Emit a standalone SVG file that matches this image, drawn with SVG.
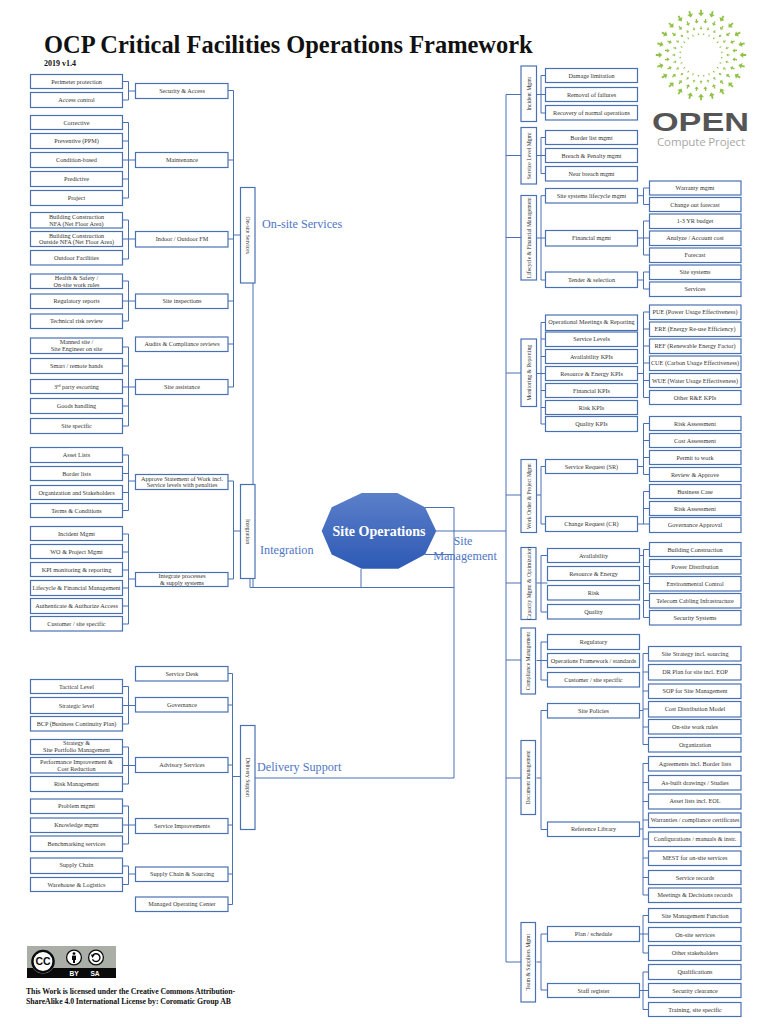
<svg xmlns="http://www.w3.org/2000/svg" xmlns:xlink="http://www.w3.org/1999/xlink" width="768" height="1024" viewBox="0 0 768 1024">
<style>
text{font-family:"Liberation Serif","Times New Roman",serif;}
.n rect{fill:#fff;stroke:#4a70b4;stroke-width:1.2;}
.n text{font-size:6.2px;fill:#333;text-anchor:middle;}
.b rect{fill:#fff;stroke:#4a70b4;stroke-width:1.2;}
.b text{font-size:5.7px;fill:#333;text-anchor:middle;}
.c path{fill:none;stroke:#4a70b4;stroke-width:1;}
.lab{font-size:12.2px;fill:#4f76c4;}
.ar{fill:#8fc247;}
</style>
<defs>
<linearGradient id="octa" x1="0" y1="0" x2="0" y2="1"><stop offset="0" stop-color="#5b7fc9"/><stop offset="1" stop-color="#2e5ab5"/></linearGradient>
<path id="ah" d="M-.9,-3.2H.9V-.2H3L0,3.2L-3,-.2H-.9Z" class="ar"/>
<g id="r1q"><use xlink:href="#r1a"/><use xlink:href="#r1a" transform="rotate(15 701 55)"/><use xlink:href="#r1a" transform="rotate(30 701 55)"/><use xlink:href="#r1a" transform="rotate(45 701 55)"/><use xlink:href="#r1a" transform="rotate(60 701 55)"/><use xlink:href="#r1a" transform="rotate(75 701 55)"/></g>
<use id="r1a" xlink:href="#ah" transform="translate(701 13)"/>
<g id="r2q"><use xlink:href="#r2a"/><use xlink:href="#r2a" transform="rotate(15 701 55)"/><use xlink:href="#r2a" transform="rotate(30 701 55)"/><use xlink:href="#r2a" transform="rotate(45 701 55)"/><use xlink:href="#r2a" transform="rotate(60 701 55)"/><use xlink:href="#r2a" transform="rotate(75 701 55)"/></g>
<use id="r2a" xlink:href="#ah" transform="rotate(7.5 701 55) translate(701 21) scale(.72)"/>
<g id="r3q"><use xlink:href="#r3a"/><use xlink:href="#r3a" transform="rotate(15 701 55)"/><use xlink:href="#r3a" transform="rotate(30 701 55)"/><use xlink:href="#r3a" transform="rotate(45 701 55)"/><use xlink:href="#r3a" transform="rotate(60 701 55)"/><use xlink:href="#r3a" transform="rotate(75 701 55)"/></g>
<use id="r3a" xlink:href="#ah" transform="translate(701 28) scale(.52)"/>
<g id="r4q"><use xlink:href="#r4a"/><use xlink:href="#r4a" transform="rotate(15 701 55)"/><use xlink:href="#r4a" transform="rotate(30 701 55)"/><use xlink:href="#r4a" transform="rotate(45 701 55)"/><use xlink:href="#r4a" transform="rotate(60 701 55)"/><use xlink:href="#r4a" transform="rotate(75 701 55)"/></g>
<use id="r4a" xlink:href="#ah" transform="rotate(7.5 701 55) translate(701 34) scale(.36)"/>
</defs>
<rect width="768" height="1024" fill="#fff"/>
<text x="44" y="53" font-size="24.45" font-weight="bold" fill="#111">OCP Critical Facilities Operations Framework</text>
<text x="44" y="65.5" font-size="8" font-weight="bold" fill="#111">2019 v1.4</text>

<g id="logo">
<use xlink:href="#r1q"/><use xlink:href="#r1q" transform="rotate(90 701 55)"/><use xlink:href="#r1q" transform="rotate(180 701 55)"/><use xlink:href="#r1q" transform="rotate(270 701 55)"/>
<use xlink:href="#r2q"/><use xlink:href="#r2q" transform="rotate(90 701 55)"/><use xlink:href="#r2q" transform="rotate(180 701 55)"/><use xlink:href="#r2q" transform="rotate(270 701 55)"/>
<use xlink:href="#r3q"/><use xlink:href="#r3q" transform="rotate(90 701 55)"/><use xlink:href="#r3q" transform="rotate(180 701 55)"/><use xlink:href="#r3q" transform="rotate(270 701 55)"/>
<use xlink:href="#r4q"/><use xlink:href="#r4q" transform="rotate(90 701 55)"/><use xlink:href="#r4q" transform="rotate(180 701 55)"/><use xlink:href="#r4q" transform="rotate(270 701 55)"/>
<text x="652" y="131" font-size="25" font-weight="bold" fill="#555" style="font-family:'Liberation Sans',Arial,sans-serif" textLength="97" lengthAdjust="spacingAndGlyphs">OPEN</text>
<text x="657" y="146" font-size="11.5" fill="#a8a8a8" style="font-family:'Open Sans',sans-serif" textLength="88">Compute Project</text>
</g>

<g id="license">
<rect x="27" y="946" width="89" height="32" fill="#a9aea6"/>
<rect x="27" y="968" width="89" height="10" fill="#0a0a0a"/>
<circle cx="43" cy="961.5" r="12" fill="#a9aea6"/>
<circle cx="43" cy="961.5" r="10.6" fill="#fff" stroke="#0a0a0a" stroke-width="2.4"/>
<text x="43" y="965" font-size="10.5" font-weight="bold" fill="#0a0a0a" text-anchor="middle" style="font-family:'Liberation Sans',Arial,sans-serif">CC</text>
<circle cx="74" cy="957.5" r="7.4" fill="#fff" stroke="#0a0a0a" stroke-width="1.3"/>
<circle cx="74" cy="953.6" r="1.4" fill="#0a0a0a"/>
<rect x="72" y="955.6" width="4" height="4.4" fill="#0a0a0a"/><rect x="73" y="959" width="2" height="4" fill="#0a0a0a"/>
<circle cx="96" cy="957.5" r="7.4" fill="#fff" stroke="#0a0a0a" stroke-width="1.3"/>
<path d="M92.6,955.8A3.9,3.9 0 1 1 92.5,959.2" fill="none" stroke="#0a0a0a" stroke-width="1.4"/>
<path d="M90.8,954.6L94.6,955L92.4,958Z" fill="#0a0a0a"/>
<text x="74" y="976.4" font-size="6.6" font-weight="bold" fill="#fff" text-anchor="middle" style="font-family:'Liberation Sans',Arial,sans-serif">BY</text>
<text x="95" y="976.4" font-size="6.6" font-weight="bold" fill="#fff" text-anchor="middle" style="font-family:'Liberation Sans',Arial,sans-serif">SA</text>
<text x="26" y="994" font-size="7.8" fill="#111" font-weight="bold" textLength="209" lengthAdjust="spacing">This Work is licensed under the Creative Commons Attribution-</text>
<text x="26" y="1004" font-size="7.8" fill="#111" font-weight="bold" textLength="205" lengthAdjust="spacing">ShareAlike 4.0 International License by: Coromatic Group AB</text>
</g>

<g id="connectors" class="c">
<path d="M436,531H506M506,94.5V962M506,94.5H521M506,155.5H521M506,237.5H521M506,373H521M506,495H521M506,583H521M506,660H521M506,778H521M506,962H521"/>
<path d="M425,507.5H454V778H255M425,554.5H454M250,587.5H454M361,569V587.5M250,578.5V587.5M253,283V587.5"/>
<path d="M233.5,90.5V387M228,90.5H233.5M228,160H233.5M228,239H233.5M228,301H233.5M228,344H233.5M228,387H233.5M233.5,235H240.5"/>
<path d="M233.5,481V579M228,481H233.5M228,579H233.5M233.5,531H240.5"/>
<path d="M232.5,673.5V904.5M228,673.5H232.5M228,705H232.5M228,765H232.5M228,825H232.5M228,874H232.5M228,904.5H232.5M232.5,776.5H240.5"/>
<path d="M122.5,81.5H128.5V100H122.5M128.5,91H135.5"/>
<path d="M122.5,122.5H128.5V198H122.5M122.5,141H128.5M122.5,160H135.5M122.5,179H128.5"/>
<path d="M122.5,220H128.5V259H122.5M122.5,239H135.5"/>
<path d="M122.5,281H128.5V321H122.5M122.5,301H135.5"/>
<path d="M122.5,347H128.5V426H122.5M122.5,366H128.5M122.5,387H135.5M122.5,406H128.5"/>
<path d="M122.5,455H128.5V510.5H122.5M122.5,473.5H128.5M122.5,492.5H128.5M128.5,481H135.5"/>
<path d="M122.5,534H128.5V624H122.5M122.5,552H128.5M122.5,570H128.5M122.5,588H128.5M122.5,606H128.5M128.5,579H135.5"/>
<path d="M122.5,686.5H128.5V724H122.5M122.5,705.5H135.5"/>
<path d="M122.5,747H128.5V784H122.5M122.5,765.5H135.5"/>
<path d="M122.5,806H128.5V844H122.5M122.5,825H135.5"/>
<path d="M122.5,866H128.5V884.5H122.5M128.5,874H135.5"/>
<path d="M541,75.5V113M536.5,94.5H545.5M541,75.5H545.5M541,113H545.5"/>
<path d="M541,137.5V173.5M536.5,155.5H545.5M541,137.5H545.5M541,173.5H545.5"/>
<path d="M541,195.7V280M536.5,238H545.5M541,195.7H545.5M541,280H545.5"/>
<path d="M541,322.5V424M536.5,373.5H545.5M541,322.5H545.5M541,339H545.5M541,356.5H545.5M541,390.5H545.5M541,407.5H545.5M541,424H545.5"/>
<path d="M541,466.5V524M536.5,495H541M541,466.5H545.5M541,524H545.5"/>
<path d="M541,555.5V612M536.5,583H547.5M541,555.5H547.5M541,612H547.5"/>
<path d="M541,642V680M536.5,660.5H547.5M541,642H547.5M541,680H547.5"/>
<path d="M541,710.5V829.5M536.5,778H541M541,710.5H547.5M541,829.5H547.5"/>
<path d="M541,934V990M536.5,962H541M541,934H547.5M541,990H547.5"/>
<path d="M637.5,195.7H643.5M643.5,188V204.5M643.5,188H649.5M643.5,204.5H649.5"/>
<path d="M637.5,238H649.5M643.5,221V255M643.5,221H649.5M643.5,255H649.5"/>
<path d="M637.5,280H643.5M643.5,272V289M643.5,272H649.5M643.5,289H649.5"/>
<path d="M637.5,373.5H643.5M643.5,312V397.5M643.5,312H649.5M643.5,329H649.5M643.5,346H649.5M643.5,363H649.5M643.5,380.5H649.5M643.5,397.5H649.5"/>
<path d="M637.5,466.5H643.5M643.5,423.5V474.5M643.5,423.5H649.5M643.5,440.5H649.5M643.5,457.5H649.5M643.5,474.5H649.5"/>
<path d="M637.5,524H649.5M643.5,491.5V524M643.5,491.5H649.5M643.5,508.5H649.5"/>
<path d="M639.5,555.5H643.5M643.5,549.5V617.5M643.5,549.5H649.5M643.5,566.5H649.5M643.5,583.5H649.5M643.5,600.5H649.5M643.5,617.5H649.5"/>
<path d="M639.5,710.5H643M643,653.5V744.5M643,653.5H648.5M643,672H648.5M643,691H648.5M643,709H648.5M643,727H648.5M643,744.5H648.5"/>
<path d="M639.5,829H643M643,763.5V895M643,763.5H648.5M643,782.5H648.5M643,801.5H648.5M643,820H648.5M643,839H648.5M643,858H648.5M643,877.5H648.5M643,895H648.5"/>
<path d="M639.5,934H648.5M643,915.5V953M643,915.5H648.5M643,953H648.5"/>
<path d="M639.5,990.5H648.5M643,972V1009.5M643,972H648.5M643,1009.5H648.5"/>
</g>

<g id="site-operations">
<polygon points="361.7,493 397.3,493 425,507.3 436.3,531 425,554.5 398.3,568.7 361.7,568.7 331.7,554.5 321.7,531 331.7,507.3" fill="url(#octa)"/>
<text x="379" y="535.5" font-size="14" font-weight="bold" fill="#fff" text-anchor="middle">Site Operations</text>
</g>
<g id="label-onsite"><text class="lab" x="262" y="228">On-site Services</text></g>
<g id="label-integration"><text class="lab" x="260" y="554">Integration</text></g>
<g id="label-delivery"><text class="lab" x="257" y="771">Delivery Support</text></g>
<g id="label-site-mgmt"><text class="lab" x="463" y="545" text-anchor="middle">Site</text><text class="lab" x="465" y="560" text-anchor="middle">Management</text></g>

<g id="bars">
<g id="bar-onsite" class="b"><rect x="240.5" y="187.5" width="14.5" height="95.5"/><text transform="translate(245.8 235.3) rotate(90)">On-site Services</text></g>
<g id="bar-integration" class="b"><rect x="240.5" y="484.5" width="14.5" height="94"/><text transform="translate(245.8 531.5) rotate(90)">Integration</text></g>
<g id="bar-delivery" class="b"><rect x="240.5" y="725.5" width="14.5" height="104"/><text transform="translate(245.8 777.5) rotate(90)">Delivery Support</text></g>
<g id="bar-incident" class="b"><rect x="521" y="66" width="15.5" height="55.5"/><text transform="translate(530.8 93.8) rotate(-90)">Incident Mgmt</text></g>
<g id="bar-slm" class="b"><rect x="521" y="127.5" width="15.5" height="56.5"/><text transform="translate(530.8 155.8) rotate(-90)">Service Level Mgmt</text></g>
<g id="bar-lifecycle" class="b"><rect x="521" y="195.5" width="15.5" height="84.5"/><text transform="translate(530.8 237.8) rotate(-90)">Lifecycle &amp; Financial Management</text></g>
<g id="bar-monitoring" class="b"><rect x="521" y="339" width="15.5" height="67.5"/><text transform="translate(530.8 372.8) rotate(-90)">Monitoring &amp; Reporting</text></g>
<g id="bar-workorder" class="b"><rect x="521" y="459.5" width="15.5" height="73"/><text transform="translate(530.8 496) rotate(-90)">Work Order &amp; Project Mgmt</text></g>
<g id="bar-capacity" class="b"><rect x="521" y="547.5" width="15" height="72"/><text transform="translate(530.5 583.5) rotate(-90)">Capacity Mgmt &amp; Optimization</text></g>
<g id="bar-compliance" class="b"><rect x="521" y="628" width="14.5" height="66"/><text transform="translate(530.3 661) rotate(-90)">Compliance Management</text></g>
<g id="bar-document" class="b"><rect x="521" y="740.5" width="14.5" height="74"/><text transform="translate(530.3 777.5) rotate(-90)">Document management</text></g>
<g id="bar-team" class="b"><rect x="521" y="922.5" width="14.5" height="79.5"/><text transform="translate(530.3 962.2) rotate(-90)">Team &amp; Suppliers Mgmt</text></g>
</g>

<g id="left-leaves">
<g id="l1" class="n"><rect x="30.5" y="74.5" width="92" height="14"/><text x="76.5" y="83.5">Perimeter protection</text></g>
<g id="l2" class="n"><rect x="30.5" y="92.5" width="92" height="15"/><text x="76.5" y="101.5">Access control</text></g>
<g id="l3" class="n"><rect x="30.5" y="115.5" width="92" height="14"/><text x="76.5" y="124.5">Corrective</text></g>
<g id="l4" class="n"><rect x="30.5" y="133.5" width="92" height="15"/><text x="76.5" y="143">Preventive (PPM)</text></g>
<g id="l5" class="n"><rect x="30.5" y="152.5" width="92" height="15"/><text x="76.5" y="161.5">Condition-based</text></g>
<g id="l6" class="n"><rect x="30.5" y="171.5" width="92" height="15"/><text x="76.5" y="180.5">Predictive</text></g>
<g id="l7" class="n"><rect x="30.5" y="190.5" width="92" height="15"/><text x="76.5" y="199.5">Project</text></g>
<g id="l8" class="n"><rect x="30.5" y="212.5" width="92" height="15.5"/><text x="76.5" y="218.5">Building Construction</text><text x="76.5" y="225.5">NFA (Net Floor Area)</text></g>
<g id="l9" class="n"><rect x="30.5" y="231.5" width="92" height="15"/><text x="76.5" y="237.5">Building Construction</text><text x="76.5" y="243.8">Outside NFA (Net Floor Area)</text></g>
<g id="l10" class="n"><rect x="30.5" y="250.5" width="92" height="14.5"/><text x="76.5" y="259.5">Outdoor Facilities</text></g>
<g id="l11" class="n"><rect x="30.5" y="274" width="92" height="14.5"/><text x="76.5" y="279.5">Health &amp; Safety /</text><text x="76.5" y="286.5">On-site work rules</text></g>
<g id="l12" class="n"><rect x="30.5" y="294" width="92" height="14.5"/><text x="76.5" y="303">Regulatory reports</text></g>
<g id="l13" class="n"><rect x="30.5" y="314" width="92" height="14.5"/><text x="76.5" y="323">Technical risk review</text></g>
<g id="l14" class="n"><rect x="30.5" y="338" width="92" height="15.5"/><text x="76.5" y="343.8">Manned site /</text><text x="76.5" y="351">Site Engineer on site</text></g>
<g id="l15" class="n"><rect x="30.5" y="358.5" width="92" height="15"/><text x="76.5" y="367.5">Smart / remote hands</text></g>
<g id="l16" class="n"><rect x="30.5" y="379.5" width="92" height="14"/><text x="76.5" y="388.5">3<tspan font-size="4" dy="-2">rd</tspan><tspan dy="2"> party escorting</tspan></text></g>
<g id="l17" class="n"><rect x="30.5" y="398.5" width="92" height="15"/><text x="76.5" y="407.5">Goods handling</text></g>
<g id="l18" class="n"><rect x="30.5" y="418.5" width="92" height="15"/><text x="76.5" y="427.5">Site specific</text></g>
<g id="l19" class="n"><rect x="30.5" y="447.5" width="92" height="15"/><text x="76.5" y="456.5">Asset Lists</text></g>
<g id="l20" class="n"><rect x="30.5" y="466.5" width="92" height="14"/><text x="76.5" y="475.5">Border lists</text></g>
<g id="l21" class="n"><rect x="30.5" y="485.5" width="92" height="14"/><text x="76.5" y="494.5">Organization and Stakeholders</text></g>
<g id="l22" class="n"><rect x="30.5" y="503.5" width="92" height="14"/><text x="76.5" y="512.5">Terms &amp; Conditions</text></g>
<g id="l23" class="n"><rect x="30.5" y="526.5" width="92" height="14"/><text x="76.5" y="535.5">Incident Mgmt</text></g>
<g id="l24" class="n"><rect x="30.5" y="544.5" width="92" height="14"/><text x="76.5" y="553.5">WO &amp; Project Mgmt</text></g>
<g id="l25" class="n"><rect x="30.5" y="562.5" width="92" height="14"/><text x="76.5" y="571.5">KPI monitoring &amp; reporting</text></g>
<g id="l26" class="n"><rect x="30.5" y="580.5" width="92" height="15"/><text x="76.5" y="589.5">Lifecycle &amp; Financial Management</text></g>
<g id="l27" class="n"><rect x="30.5" y="598.5" width="92" height="15"/><text x="76.5" y="607.5">Authenticate &amp; Authorize Access</text></g>
<g id="l28" class="n"><rect x="30.5" y="616.5" width="92" height="14.5"/><text x="76.5" y="625.5">Customer / site specific</text></g>
<g id="l29" class="n"><rect x="30.5" y="679.5" width="92" height="14"/><text x="76.5" y="688.5">Tactical Level</text></g>
<g id="l30" class="n"><rect x="30.5" y="697.5" width="92" height="16"/><text x="76.5" y="707.5">Strategic level</text></g>
<g id="l31" class="n"><rect x="30.5" y="716.5" width="92" height="14.5"/><text x="76.5" y="725.5">BCP (Business Continuity Plan)</text></g>
<g id="l32" class="n"><rect x="30.5" y="739.5" width="92" height="15"/><text x="76.5" y="744.5">Strategy &amp;</text><text x="76.5" y="751.5">Site Portfolio Management</text></g>
<g id="l33" class="n"><rect x="30.5" y="757.5" width="92" height="15.5"/><text x="76.5" y="763.5">Performance Improvement &amp;</text><text x="76.5" y="770.5">Cost Reduction</text></g>
<g id="l34" class="n"><rect x="30.5" y="776.5" width="92" height="15"/><text x="76.5" y="785.5">Risk Management</text></g>
<g id="l35" class="n"><rect x="30.5" y="799" width="92" height="14.5"/><text x="76.5" y="807.5">Problem mgmt</text></g>
<g id="l36" class="n"><rect x="30.5" y="818" width="92" height="14.5"/><text x="76.5" y="827">Knowledge mgmt</text></g>
<g id="l37" class="n"><rect x="30.5" y="836" width="92" height="15.5"/><text x="76.5" y="845.5">Benchmarking services</text></g>
<g id="l38" class="n"><rect x="30.5" y="858" width="92" height="15.5"/><text x="76.5" y="867">Supply Chain</text></g>
<g id="l39" class="n"><rect x="30.5" y="877.5" width="92" height="14"/><text x="76.5" y="886.5">Warehouse &amp; Logistics</text></g>
</g>

<g id="left-mid">
<g id="m1" class="n"><rect x="135.5" y="83.5" width="92.5" height="15"/><text x="182" y="92.5">Security &amp; Access</text></g>
<g id="m2" class="n"><rect x="135.5" y="152.5" width="92.5" height="15"/><text x="182" y="161.5">Maintenance</text></g>
<g id="m3" class="n"><rect x="135.5" y="231.5" width="92.5" height="15.5"/><text x="182" y="240.5">Indoor / Outdoor FM</text></g>
<g id="m4" class="n"><rect x="135.5" y="294" width="92.5" height="14.5"/><text x="182" y="303">Site inspections</text></g>
<g id="m5" class="n"><rect x="135.5" y="337" width="92.5" height="14.5"/><text x="182" y="346">Audits &amp; Compliance reviews</text></g>
<g id="m6" class="n"><rect x="135.5" y="379.5" width="92.5" height="15"/><text x="182" y="389">Site assistance</text></g>
<g id="m7" class="n"><rect x="135.5" y="474.5" width="92.5" height="15"/><text x="182" y="480.5">Approve Statement of Work incl.</text><text x="182" y="487.3">Service levels with penalties</text></g>
<g id="m8" class="n"><rect x="135.5" y="572.5" width="92.5" height="14"/><text x="182" y="578.3">Integrate processes</text><text x="182" y="584.5">&amp; supply systems</text></g>
<g id="m9" class="n"><rect x="135.5" y="666.5" width="92.5" height="14.5"/><text x="182" y="675.5">Service Desk</text></g>
<g id="m10" class="n"><rect x="135.5" y="697.5" width="92.5" height="14.5"/><text x="182" y="706.5">Governance</text></g>
<g id="m11" class="n"><rect x="135.5" y="757.5" width="92.5" height="15"/><text x="182" y="766.5">Advisory Services</text></g>
<g id="m12" class="n"><rect x="135.5" y="818.5" width="92.5" height="15"/><text x="182" y="827.5">Service Improvements</text></g>
<g id="m13" class="n"><rect x="135.5" y="867" width="92.5" height="14.5"/><text x="182" y="876">Supply Chain &amp; Sourcing</text></g>
<g id="m14" class="n"><rect x="135.5" y="897" width="92.5" height="14.5"/><text x="182" y="906">Managed Operating Center</text></g>
</g>

<g id="right-mid">
<g id="r1" class="n"><rect x="545.5" y="68.5" width="92" height="14"/><text x="591.5" y="77.5">Damage limitation</text></g>
<g id="r2" class="n"><rect x="545.5" y="87.5" width="92" height="14"/><text x="591.5" y="96.5">Removal of failures</text></g>
<g id="r3" class="n"><rect x="545.5" y="105.5" width="92" height="14.5"/><text x="591.5" y="114.5">Recovery of normal operations</text></g>
<g id="r4" class="n"><rect x="545.5" y="130.5" width="92" height="14"/><text x="591.5" y="139.5">Border list mgmt</text></g>
<g id="r5" class="n"><rect x="545.5" y="148.5" width="92" height="14"/><text x="591.5" y="157.5">Breach &amp; Penalty mgmt</text></g>
<g id="r6" class="n"><rect x="545.5" y="166.5" width="92" height="14.5"/><text x="591.5" y="175.5">Near breach mgmt</text></g>
<g id="r7" class="n"><rect x="545.5" y="188.5" width="92" height="14.5"/><text x="591.5" y="197.5">Site systems lifecycle mgmt</text></g>
<g id="r8" class="n"><rect x="545.5" y="230.5" width="92" height="15.5"/><text x="591.5" y="239.5">Financial mgmt</text></g>
<g id="r9" class="n"><rect x="545.5" y="272" width="92" height="15.5"/><text x="591.5" y="281.5">Tender &amp; selection</text></g>
<g id="r10" class="n"><rect x="545.5" y="315" width="92" height="15.5"/><text x="591.5" y="324">Operational Meetings &amp; Reporting</text></g>
<g id="r11" class="n"><rect x="545.5" y="332" width="92" height="14.5"/><text x="591.5" y="341">Service Levels</text></g>
<g id="r12" class="n"><rect x="545.5" y="349.5" width="92" height="14"/><text x="591.5" y="358.5">Availability KPIs</text></g>
<g id="r13" class="n"><rect x="545.5" y="366.5" width="92" height="14"/><text x="591.5" y="375.5">Resource &amp; Energy KPIs</text></g>
<g id="r14" class="n"><rect x="545.5" y="383.5" width="92" height="14"/><text x="591.5" y="392.5">Financial KPIs</text></g>
<g id="r15" class="n"><rect x="545.5" y="400.5" width="92" height="14"/><text x="591.5" y="409.5">Risk KPIs</text></g>
<g id="r16" class="n"><rect x="545.5" y="416.5" width="92" height="15"/><text x="591.5" y="425.5">Quality KPIs</text></g>
<g id="r17" class="n"><rect x="545.5" y="459.5" width="92" height="14"/><text x="591.5" y="468.5">Service Request (SR)</text></g>
<g id="r18" class="n"><rect x="545.5" y="516.5" width="92" height="15"/><text x="591.5" y="525.5">Change Request (CR)</text></g>
<g id="r19" class="n"><rect x="547.5" y="548.5" width="92" height="14"/><text x="593.5" y="557.5">Availability</text></g>
<g id="r20" class="n"><rect x="547.5" y="566.5" width="92" height="14"/><text x="593.5" y="575.5">Resource &amp; Energy</text></g>
<g id="r21" class="n"><rect x="547.5" y="585.5" width="92" height="14.5"/><text x="593.5" y="594.5">Risk</text></g>
<g id="r22" class="n"><rect x="547.5" y="604.5" width="92" height="14.5"/><text x="593.5" y="613.5">Quality</text></g>
<g id="r23" class="n"><rect x="547.5" y="634.5" width="92" height="15"/><text x="593.5" y="643.5">Regulatory</text></g>
<g id="r24" class="n"><rect x="547.5" y="653.5" width="92" height="14"/><text x="593.5" y="662.5">Operations Framework / standards</text></g>
<g id="r25" class="n"><rect x="547.5" y="672.5" width="92" height="14.5"/><text x="593.5" y="681.5">Customer / site specific</text></g>
<g id="r26" class="n"><rect x="547.5" y="703.5" width="92" height="14.5"/><text x="593.5" y="712.5">Site Policies</text></g>
<g id="r27" class="n"><rect x="547.5" y="822" width="92" height="14.5"/><text x="593.5" y="831">Reference Library</text></g>
<g id="r28" class="n"><rect x="547.5" y="926.5" width="92" height="15"/><text x="593.5" y="935.5">Plan / schedule</text></g>
<g id="r29" class="n"><rect x="547.5" y="983.5" width="92" height="14"/><text x="593.5" y="992.5">Staff register</text></g>
</g>

<g id="right-leaves">
<g id="t1" class="n"><rect x="649.5" y="181" width="91.5" height="14"/><text x="695" y="190">Warranty mgmt</text></g>
<g id="t2" class="n"><rect x="649.5" y="197.5" width="91.5" height="14"/><text x="695" y="206.5">Change out forecast</text></g>
<g id="t3" class="n"><rect x="649.5" y="214" width="91.5" height="14.5"/><text x="695" y="222.5">1-3 YR budget</text></g>
<g id="t4" class="n"><rect x="649.5" y="231" width="91.5" height="14.5"/><text x="695" y="240">Analyze / Account cost</text></g>
<g id="t5" class="n"><rect x="649.5" y="248" width="91.5" height="14.5"/><text x="695" y="257">Forecast</text></g>
<g id="t6" class="n"><rect x="649.5" y="265" width="91.5" height="14.5"/><text x="695" y="274">Site systems</text></g>
<g id="t7" class="n"><rect x="649.5" y="282" width="91.5" height="14.5"/><text x="695" y="291">Services</text></g>
<g id="t8" class="n"><rect x="649.5" y="305" width="91.5" height="14.5"/><text x="695" y="314">PUE (Power Usage Effectiveness)</text></g>
<g id="t9" class="n"><rect x="649.5" y="322" width="91.5" height="14.5"/><text x="695" y="331">ERE (Energy Re-use Efficiency)</text></g>
<g id="t10" class="n"><rect x="649.5" y="339" width="91.5" height="14.5"/><text x="695" y="348">REF (Renewable Energy Factor)</text></g>
<g id="t11" class="n"><rect x="649.5" y="356" width="91.5" height="14.5"/><text x="695" y="365">CUE (Carbon Usage Effectiveness)</text></g>
<g id="t12" class="n"><rect x="649.5" y="373.5" width="91.5" height="14"/><text x="695" y="382.5">WUE (Water Usage Effectiveness)</text></g>
<g id="t13" class="n"><rect x="649.5" y="390.5" width="91.5" height="14"/><text x="695" y="399.5">Other R&amp;E KPIs</text></g>
<g id="t14" class="n"><rect x="649.5" y="416.5" width="91.5" height="14"/><text x="695" y="425.5">Risk Assessment</text></g>
<g id="t15" class="n"><rect x="649.5" y="433.5" width="91.5" height="14"/><text x="695" y="442.5">Cost Assessment</text></g>
<g id="t16" class="n"><rect x="649.5" y="450.5" width="91.5" height="14"/><text x="695" y="459.5">Permit to work</text></g>
<g id="t17" class="n"><rect x="649.5" y="467.5" width="91.5" height="14"/><text x="695" y="476.5">Review &amp; Approve</text></g>
<g id="t18" class="n"><rect x="649.5" y="484.5" width="91.5" height="14"/><text x="695" y="493.5">Business Case</text></g>
<g id="t19" class="n"><rect x="649.5" y="501.5" width="91.5" height="14"/><text x="695" y="510.5">Risk Assessment</text></g>
<g id="t20" class="n"><rect x="649.5" y="517.5" width="91.5" height="15"/><text x="695" y="527">Governance Approval</text></g>
<g id="t21" class="n"><rect x="649.5" y="542.5" width="91.5" height="14"/><text x="695" y="551.5">Building Construction</text></g>
<g id="t22" class="n"><rect x="649.5" y="559.5" width="91.5" height="14.5"/><text x="695" y="568.5">Power Distribution</text></g>
<g id="t23" class="n"><rect x="649.5" y="576.5" width="91.5" height="14.5"/><text x="695" y="585.5">Environmental Control</text></g>
<g id="t24" class="n"><rect x="649.5" y="593.5" width="91.5" height="14.5"/><text x="695" y="602.5">Telecom Cabling Infrastructure</text></g>
<g id="t25" class="n"><rect x="649.5" y="610.5" width="91.5" height="14.5"/><text x="695" y="619.5">Security Systems</text></g>
<g id="t26" class="n"><rect x="648.5" y="646.5" width="92.5" height="14.5"/><text x="695" y="655.5">Site Strategy incl. sourcing</text></g>
<g id="t27" class="n"><rect x="648.5" y="664.5" width="92.5" height="15.5"/><text x="695" y="673.5">DR Plan for site incl. EOP</text></g>
<g id="t28" class="n"><rect x="648.5" y="684" width="92.5" height="14.5"/><text x="695" y="693">SOP for Site Management</text></g>
<g id="t29" class="n"><rect x="648.5" y="701.5" width="92.5" height="15.5"/><text x="695" y="711">Cost Distribution Model</text></g>
<g id="t30" class="n"><rect x="648.5" y="719.5" width="92.5" height="14.5"/><text x="695" y="728.5">On-site work rules</text></g>
<g id="t31" class="n"><rect x="648.5" y="737.5" width="92.5" height="14.5"/><text x="695" y="746.5">Organization</text></g>
<g id="t32" class="n"><rect x="648.5" y="756.5" width="92.5" height="14.5"/><text x="695" y="765.5">Agreements incl. Border lists</text></g>
<g id="t33" class="n"><rect x="648.5" y="775.5" width="92.5" height="14.5"/><text x="695" y="784.5">As-built drawings / Studies</text></g>
<g id="t34" class="n"><rect x="648.5" y="794" width="92.5" height="15"/><text x="695" y="803">Asset lists incl. EOL</text></g>
<g id="t35" class="n"><rect x="648.5" y="813" width="92.5" height="14.5"/><text x="695" y="822">Warranties / compliance certificates</text></g>
<g id="t36" class="n"><rect x="648.5" y="832" width="92.5" height="14.5"/><text x="695" y="841">Configurations / manuals &amp; instr.</text></g>
<g id="t37" class="n"><rect x="648.5" y="851" width="92.5" height="14.5"/><text x="695" y="860">MEST for on-site services</text></g>
<g id="t38" class="n"><rect x="648.5" y="870.5" width="92.5" height="14"/><text x="695" y="879.5">Service records</text></g>
<g id="t39" class="n"><rect x="648.5" y="888" width="92.5" height="14.5"/><text x="695" y="897">Meetings &amp; Decisions records</text></g>
<g id="t40" class="n"><rect x="648.5" y="908.5" width="92.5" height="14"/><text x="695" y="917.5">Site Management Function</text></g>
<g id="t41" class="n"><rect x="648.5" y="927.5" width="92.5" height="14"/><text x="695" y="936.5">On-site services</text></g>
<g id="t42" class="n"><rect x="648.5" y="945.5" width="92.5" height="15"/><text x="695" y="954.5">Other stakeholders</text></g>
<g id="t43" class="n"><rect x="648.5" y="964.5" width="92.5" height="15"/><text x="695" y="973.5">Qualifications</text></g>
<g id="t44" class="n"><rect x="648.5" y="983.5" width="92.5" height="14"/><text x="695" y="992.5">Security clearance</text></g>
<g id="t45" class="n"><rect x="648.5" y="1002.5" width="92.5" height="14"/><text x="695" y="1011.5">Training, site specific</text></g>
</g>
</svg>
